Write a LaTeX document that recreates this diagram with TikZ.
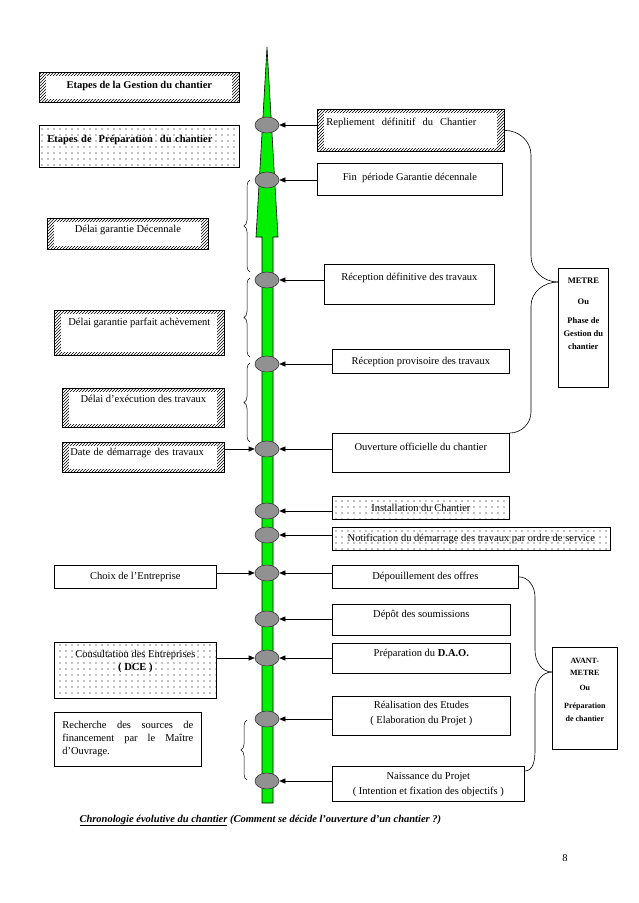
\documentclass[tikz,border=0pt]{standalone}
\usepackage{fontspec}
\setmainfont{Liberation Serif}
\usetikzlibrary{shapes.geometric,arrows.meta,patterns,patterns.meta,decorations.pathreplacing}
\definecolor{vert}{RGB}{0,240,0}
\definecolor{gris}{RGB}{145,145,145}
\definecolor{grisf}{RGB}{60,60,60}
\tikzset{
  boite/.style={draw, line width=0.7pt, rectangle, inner sep=0pt, anchor=north west, font=\fontsize{10.5}{13}\selectfont},
  hachure/.style={boite, pattern=north east lines, path picture={\fill[white] ([shift={(7pt,-3.5pt)}]path picture bounding box.north west) rectangle ([shift={(-7pt,3.5pt)}]path picture bounding box.south east);}},
  points/.style={boite, pattern={Dots[distance=6pt,radius=0.55pt]}},
  jalon/.style={ellipse, draw=grisf, fill=gris, line width=0.6pt, minimum width=24pt, minimum height=16pt, inner sep=0pt},
  fleche/.style={-{Triangle[length=6pt,width=5pt]}, line width=0.6pt},
  accolade/.style={decorate, decoration={brace, amplitude=6pt}, line width=0.5pt},
  phase/.style={draw, line width=0.7pt, rectangle, anchor=north west, inner sep=0pt, align=center}
}
\begin{document}
\begin{tikzpicture}[x=1pt,y=1pt]
  \useasboundingbox (0,0) rectangle (638,-903);
  % Axe du temps
  \def\xa{267}
  \draw[fill=vert, line width=0.6pt] (262,-803) -- (262,-237) -- (256,-237) -- (\xa,-47)
    -- (278,-237) -- (273,-237) -- (273,-803) -- cycle;
  % Jalons sur l'axe
  \foreach \n/\y in {1/125,2/180,3/280,4/364,5/449,6/511,7/535,8/573,9/619,10/658,11/719,12/781}
    \node[jalon] (e\n) at (\xa,-\y) {};

  % Etapes de gauche
  \node[hachure, font=\fontsize{10.5}{13}\selectfont\bfseries, minimum width=200pt, text height=16pt, text depth=14pt] (g1) at (39,-72) {Etapes de la Gestion du chantier};
  \node[points, font=\fontsize{10.5}{13}\selectfont\bfseries, inner xsep=8pt, text width=184pt, align=left, text height=17pt, text depth=25pt] (g2) at (39,-125) {Etapes de~ Préparation~ du chantier};
  \node[hachure, minimum width=161pt, text height=14pt, text depth=17pt] (l1) at (47,-218) {Délai garantie Décennale};
  \node[hachure, minimum width=170pt, text height=15pt, text depth=30pt] (l2) at (54,-310) {Délai garantie parfait achèvement};
  \node[hachure, minimum width=162pt, text height=14pt, text depth=25pt] (l3) at (62,-388) {Délai d'exécution des travaux};
  \node[hachure, inner xsep=8pt, text width=146pt, align=left, text height=13pt, text depth=17pt] (l4) at (62,-442) {Date de démarrage des travaux};
  \node[boite, minimum width=162pt, text height=14pt, text depth=9pt] (l5) at (54,-565) {Choix de l'Entreprise};
  \node[points, align=center, minimum width=162pt, text height=28pt, text depth=28pt] (l6) at (54,-642) {Consultation des Entreprises\\\textbf{( DCE )}};
  \node[boite, inner xsep=8pt, text width=131pt, align=justify, minimum height=54pt] (l7) at (54,-712) {Recherche des sources de\linebreak financement par le Maître\linebreak d'Ouvrage.};

  % Etapes de droite
  \node[hachure, inner xsep=9pt, text width=169pt, align=left, text height=16pt, text depth=26pt] (r1) at (317,-109) {Repliement~ définitif~ du~ Chantier};
  \node[boite, minimum width=185pt, text height=17pt, text depth=15pt] (r2) at (317,-163) {Fin~ période Garantie décennale};
  \node[boite, minimum width=170pt, text height=16pt, text depth=24pt] (r3) at (324,-264) {Réception définitive des travaux};
  \node[boite, minimum width=177pt, text height=15pt, text depth=9pt] (r4) at (332,-349) {Réception provisoire des travaux};
  \node[boite, minimum width=177pt, text height=17pt, text depth=22pt] (r5) at (332,-433) {Ouverture officielle du chantier};
  \node[points, minimum width=177pt, text height=15pt, text depth=8pt] (r6) at (332,-496) {Installation du Chantier};
  \node[points, minimum width=278pt, text height=14pt, text depth=9pt] (r7) at (332,-527) {Notification du démarrage des travaux par ordre de service};
  \node[boite, minimum width=186pt, text height=14pt, text depth=9pt] (r8) at (332,-565) {Dépouillement des offres};
  \node[boite, minimum width=178pt, text height=13pt, text depth=18pt] (r9) at (332,-604) {Dépôt des soumissions};
  \node[boite, minimum width=178pt, text height=13pt, text depth=17pt] (r10) at (332,-643) {Préparation du \textbf{D.A.O.}};
  \node[boite, align=center, minimum width=178pt, text height=27pt, text depth=12pt] (r11) at (332,-696) {Réalisation des Etudes\\[2pt]( Elaboration du Projet )};
  \node[boite, align=center, minimum width=192pt, text height=28pt, text depth=7pt] (r12) at (332,-766) {Naissance du Projet\\[2pt]( Intention et fixation des objectifs )};

  % Phases
  \node[phase, font=\fontsize{8.5}{13}\selectfont\bfseries, minimum width=50pt, text height=81pt, text depth=38pt] (m1) at (558,-268) {METRE\\[8pt]Ou\\[6pt]Phase de\\Gestion du\\chantier};
  \node[phase, font=\fontsize{8}{12.5}\selectfont\bfseries, minimum width=65pt, text height=74pt, text depth=28pt] (m2) at (552,-647) {AVANT-\\METRE\\[2pt]Ou\\[6pt]Préparation\\de chantier};

  % Fleches vers les jalons
  \foreach \n in {1,...,12}
    \draw[fleche] (r\n.west |- e\n) -- (e\n.east);
  \draw[fleche] (l4.east |- e5) -- (e5.west);
  \draw[fleche] (l5.east |- e8) -- (e8.west);
  \draw[fleche] (l6.east |- e10) -- (e10.west);

  % Accolades des delais
  \draw[accolade] (250,-272) -- (250,-180);
  \draw[accolade] (250,-357) -- (250,-278);
  \draw[accolade] (250,-442) -- (250,-363);
  \draw[accolade] (247,-780) -- (247,-720);

  % Regroupement des phases
  \coordinate (jm) at (558,-282);
  \coordinate (ja) at (552,-672);
  \draw[line width=0.6pt] (r1.east) to[out=0,in=90] (531,-155) -- (531,-256) to[out=-90,in=180] (jm);
  \draw[line width=0.6pt] (r5.north east) to[out=0,in=-90] (531,-412) -- (531,-306) to[out=90,in=180] (jm);
  \draw[line width=0.6pt] (r8.east) to[out=0,in=90] (535,-597) -- (535,-650) to[out=-90,in=180] (ja);
  \draw[line width=0.6pt] ([yshift=-5pt]r12.north east) to[out=0,in=-90] (535,-750) -- (535,-694) to[out=90,in=180] (ja);

  % Legende et numero de page
  \node[anchor=base west, font=\fontsize{10.5}{12}\selectfont\bfseries\itshape] (titre) at (76,-822) {\underline{Chronologie évolutive du chantier} (Comment se décide l'ouverture d'un chantier ?)};
  \node[font=\fontsize{10.5}{12}\selectfont] (page) at (565,-858) {8};
\end{tikzpicture}
\end{document}
